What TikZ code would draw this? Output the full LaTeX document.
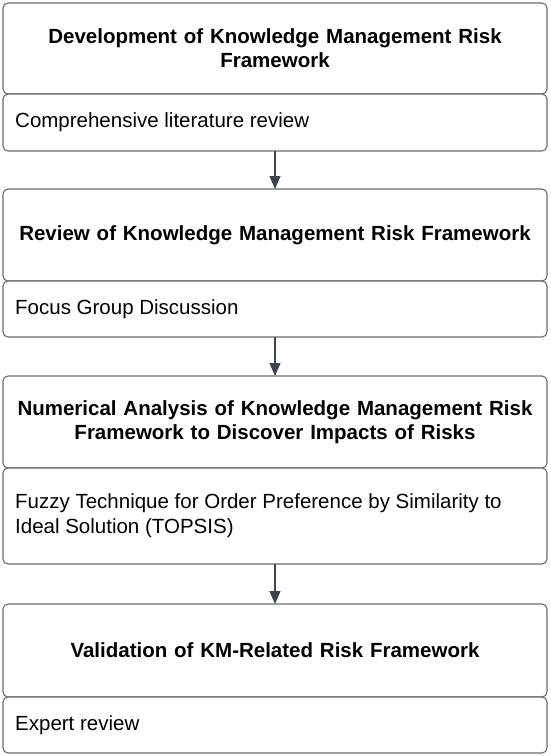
\documentclass[tikz,border=0pt]{standalone}
\usepackage{fontspec}
\setmainfont{Liberation Sans}
\usetikzlibrary{arrows.meta}
\definecolor{boxline}{HTML}{686C72}
\definecolor{arrowc}{HTML}{3D444D}
\tikzset{
  x=1pt,y=-1pt,
  panel/.style={draw=boxline,line width=1.1pt,rounded corners=5pt,fill=white},
  headtext/.style={font=\fontsize{20.5}{24}\selectfont\bfseries,align=center,text width=540pt,inner sep=0pt},
  subtext/.style={font=\fontsize{20.5}{25}\selectfont,align=left,anchor=west,inner sep=0pt}
  ,flow/.style={draw=arrowc,line width=1.2pt,-{Triangle[length=13pt,width=11pt]}}
}
\begin{document}
\begin{tikzpicture}
\useasboundingbox (0,0) rectangle (550,756);
% box 1
\draw[panel] (3,3) rectangle (547,94);
\draw[panel] (3,94) rectangle (547,151);
\node[headtext] (h1) at (275,48.5) {Development of Knowledge Management Risk\\Framework};
\node[subtext] (s1) at (15,122.5) {Comprehensive literature review};
% box 2
\draw[panel] (3,189) rectangle (547,281);
\draw[panel] (3,281) rectangle (547,337);
\node[headtext] (h2) at (275,235) {Review of Knowledge Management Risk Framework};
\node[subtext] (s2) at (15,309) {Focus Group Discussion};
% box 3
\draw[panel] (3,376) rectangle (547,468);
\draw[panel] (3,468) rectangle (547,564);
\node[headtext] (h3) at (275,422) {Numerical Analysis of Knowledge Management Risk\\Framework to Discover Impacts of Risks};
\node[subtext] (s3) at (15,516) {\parbox{535pt}{\raggedright\baselineskip=25pt Fuzzy Technique for Order Preference by Similarity to\\Ideal Solution (TOPSIS)}};
% box 4
\draw[panel] (3,604) rectangle (547,697);
\draw[panel] (3,697) rectangle (547,753);
\node[headtext] (h4) at (275,650.5) {Validation of KM-Related Risk Framework};
\node[subtext] (s4) at (15,725) {Expert review};
% connectors
\coordinate (a1s) at (275,151);
\coordinate (a1e) at (275,189);
\coordinate (a2s) at (275,337);
\coordinate (a2e) at (275,376);
\coordinate (a3s) at (275,564);
\coordinate (a3e) at (275,604);
\draw[flow] (a1s) -- (a1e);
\draw[flow] (a2s) -- (a2e);
\draw[flow] (a3s) -- (a3e);
\end{tikzpicture}
\end{document}
